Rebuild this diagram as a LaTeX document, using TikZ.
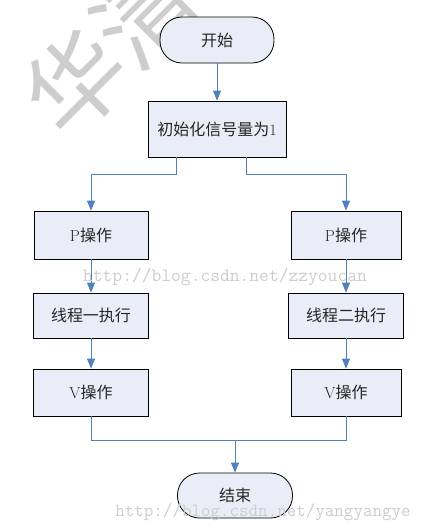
\documentclass[tikz,border=0pt]{standalone}
\usepackage{fontspec}
\usepackage{xcolor}
\usepackage{tikz}
\usetikzlibrary{calc,arrows.meta}
\newfontfamily\cjk{Noto Sans CJK SC}
\definecolor{flowblue}{HTML}{4F81BD}
\definecolor{boxfill}{HTML}{E9EDF7}
\definecolor{inktext}{HTML}{262626}
\definecolor{mark}{HTML}{CDCDCD}
\tikzset{
  box/.style={draw=black, line width=0.8pt, fill=boxfill, inner sep=0pt, text=inktext, font=\fontsize{16}{18}\selectfont},
  term/.style={box, rounded corners=22pt},
  flow/.style={draw=flowblue, line width=1pt},
  arr/.style={flow, -{Triangle[width=8pt,length=10pt]}},
  wm/.style={text=mark, font=\ttfamily\fontsize{19}{20}\selectfont},
}

\begin{document}
\begin{tikzpicture}[x=1pt,y=-1pt]
  \useasboundingbox[fill=white] (0,0) rectangle (433,531);

  % watermark behind the chart
  \begin{scope}
    \clip (0,0) rectangle (433,531);
    \node[text=mark, font=\cjk\fontsize{98}{98}\selectfont, rotate=45] (wmhua) at (110,48) {华清};
  \end{scope}

  % nodes
  \node[term, minimum width=114pt, minimum height=46pt] (start) at (217,40) {\cjk 开始};
  \node[box, minimum width=138pt, minimum height=56pt] (init) at (217,129) {{\cjk 初始化信号量为}1};
  \node[box, minimum width=114pt, minimum height=48pt] (p1) at (91,235) {P{\cjk 操作}};
  \node[box, minimum width=110pt, minimum height=48pt] (p2) at (346,235) {P{\cjk 操作}};
  \node[box, minimum width=115pt, minimum height=45pt] (run1) at (91,315.5) {\cjk 线程一执行};
  \node[box, minimum width=115pt, minimum height=45pt] (run2) at (346,315.5) {\cjk 线程二执行};
  \node[box, minimum width=115pt, minimum height=47pt] (v1) at (91,392.5) {V{\cjk 操作}};
  \node[box, minimum width=110pt, minimum height=47pt] (v2) at (346,392.5) {V{\cjk 操作}};
  \node[term, minimum width=115pt, minimum height=45pt] (stop) at (235,495.5) {\cjk 结束};

  % connectors
  \draw[arr] (start.south) -- (init.north);
  \draw[arr] ($(init.south)+(-41,0)$) -- ++(0,17) -| (p1.north);
  \draw[arr] ($(init.south)+(29,0)$) -- ++(0,17) -| (p2.north);
  \draw[arr] (p1.south) -- (run1.north);
  \draw[arr] (p2.south) -- (run2.north);
  \draw[arr] (run1.south) -- (v1.north);
  \draw[arr] (run2.south) -- (v2.north);
  \coordinate (join) at ($(v1.south)+(0,24)$);
  \draw[flow] (v1.south) -- (join) -| (v2.south);
  \draw[arr] (stop.north |- join) -- (stop.north);

  % url watermarks
  \node[wm] (wm1) at (225,277) {http://blog.csdn.net/zzyoucan};
  \node[wm, font=\ttfamily\fontsize{18.5}{20}\selectfont] (wm2) at (263,512) {http://blog.csdn.net/yangyangye};
\end{tikzpicture}
\end{document}
